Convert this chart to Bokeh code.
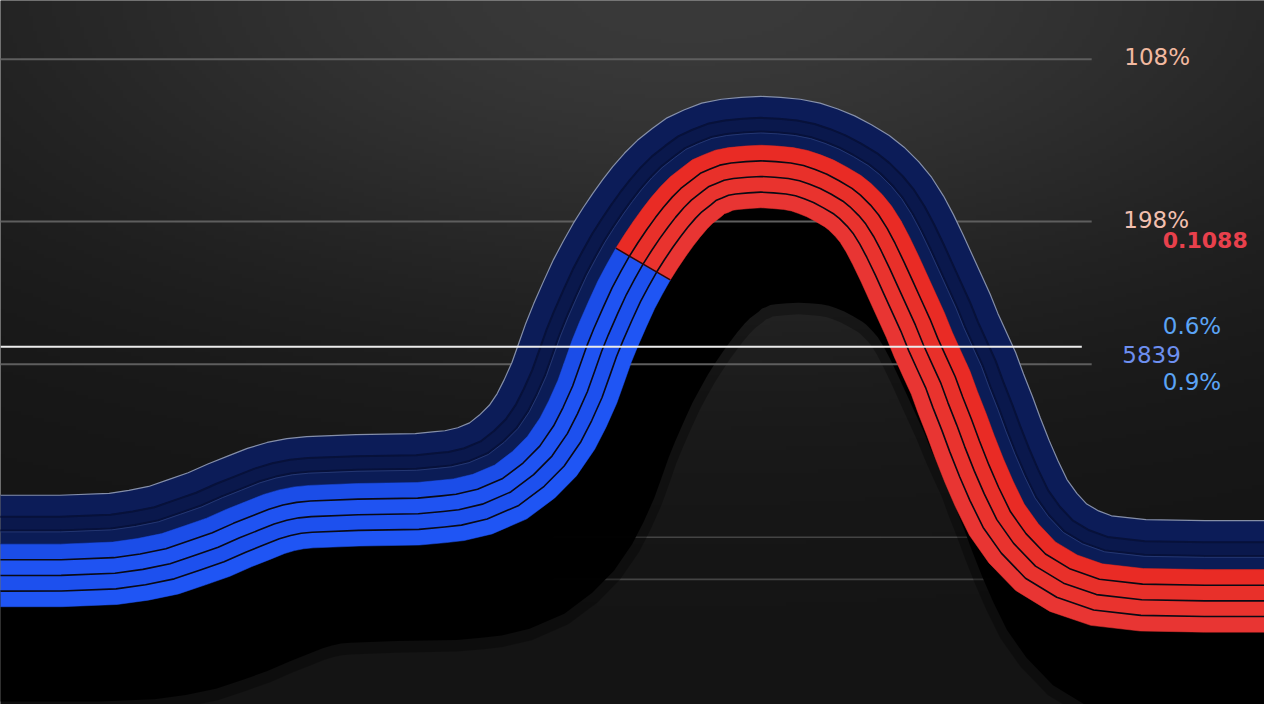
import numpy as np
from bokeh.plotting import figure
from bokeh.models import Range1d
from bokeh.core.properties import value
from bokeh.embed import file_html
from bokeh.resources import INLINE

# ---------------- data (pixel coords, y downward) ----------------
# outer (upper) edge of the ribbon
edge_x = [0, 60, 110, 130, 150, 170, 190, 210, 230, 250, 270, 290, 310, 360, 420, 440,
          450, 463, 475, 485, 495, 503, 510, 518, 525, 532, 540, 550, 560, 570, 580, 590,
          600, 610, 620, 632, 645, 660, 675, 692, 710, 730, 750, 770, 790, 810, 830, 848,
          865, 882, 900, 915, 930, 943, 955, 965, 975, 984, 993, 1002, 1010, 1019, 1028,
          1036, 1045, 1053, 1062, 1071, 1080, 1090, 1100, 1112, 1125, 1160, 1220, 1280]
edge_y = [506, 506, 504, 501, 497, 490, 483, 474, 466, 458, 452, 448, 446, 444, 443, 441,
          440, 437, 432, 424, 414, 402, 388, 370, 350, 330, 310, 287, 265, 246, 228, 212,
          197, 183, 170, 156, 143, 131, 120, 112, 105, 101, 99, 98, 99, 101, 105, 111,
          118, 127, 138, 150, 165, 181, 200, 219, 240, 260, 280, 300, 320, 340, 360,
          382, 405, 427, 450, 471, 490, 504, 515, 522, 527, 531, 532, 532]
split_x = 580            # where the inner stripes change from blue to red

# horizontal reference lines
grid_y = [60, 226, 372]
grid_x0 = [0, 0, 0]
grid_x1 = [1105, 1105, 1105]
low_grid_y = [549, 592]
low_grid_x0 = [560, 560]
low_grid_x1 = [1100, 1100]
mark_y = [354]
mark_x0 = [0]
mark_x1 = [1095]

# labels on the right
label_text = ["108%", "198%", "0.1088", "0.6%", "5839", "0.9%"]
label_x = [1138, 1137, 1177, 1177, 1136, 1177]
label_y = [58, 224, 245, 333, 362, 390]
label_color = ["#f2b9a0", "#f2bfae", "#e8404c", "#5ba4f5", "#6d8ff0", "#5ba4f5"]
label_style = ["normal", "normal", "bold", "normal", "normal", "normal"]
label_size = ["23px", "23px", "22px", "23px", "23px", "23px"]

# ---------------- geometry helpers ----------------
PW, PH = 1280, 720


def Y(y):
    return PH - np.asarray(y, dtype=float)


pts = np.column_stack([np.asarray(edge_x, float), np.asarray(edge_y, float)])
# extend the ribbon flat beyond both frame edges
pts = np.vstack([[pts[0, 0] - 200, pts[0, 1]], pts, [pts[-1, 0] + 200, pts[-1, 1]]])
n = len(pts)
tang = np.zeros_like(pts)
tang[1:-1] = pts[2:] - pts[:-2]
tang[0] = pts[1] - pts[0]
tang[-1] = pts[-1] - pts[-2]
tang /= np.linalg.norm(tang, axis=1)[:, None]
normal = np.column_stack([-tang[:, 1], tang[:, 0]])  # points to the inner (lower) side


def off(d, dx=0.0, dy=0.0):
    q = pts + d * normal
    return q[:, 0] + dx, q[:, 1] + dy


def band(d1, d2, a=0, b=None, dx=0.0, dy=0.0):
    if b is None:
        b = n - 1
    x1, y1 = off(d1, dx, dy)
    x2, y2 = off(d2, dx, dy)
    xs = np.concatenate([x1[a:b + 1], x2[a:b + 1][::-1]])
    ys = np.concatenate([y1[a:b + 1], y2[a:b + 1][::-1]])
    return xs, Y(ys)


k = edge_x.index(split_x) + 1   # +1 for the padding point

# ---------------- figure ----------------
p = figure(width=1264, height=704, output_backend="svg", toolbar_location=None,
           x_range=Range1d(0, PW), y_range=Range1d(0, PH),
           x_axis_location=None, y_axis_location=None, min_border=0)
p.grid.visible = False
p.outline_line_color = None
p.background_fill_color = "#1a1a1a"
p.border_fill_color = "#1a1a1a"

# background glow
Hi, Wi = 180, 320
ys_img = PH - (np.arange(Hi) + 0.5) * PH / Hi      # row 0 at the bottom
xs_img = (np.arange(Wi) + 0.5) * PW / Wi
GX, GY = np.meshgrid(xs_img, ys_img)
g = (20 + 38 * np.exp(-((GX - 700) / 750) ** 2 - ((GY + 10) / 330) ** 2)).astype(np.uint8)
img = np.empty((Hi, Wi), dtype=np.uint32)
view = img.view(dtype=np.uint8).reshape((Hi, Wi, 4))
view[..., 0] = g
view[..., 1] = g
view[..., 2] = g
view[..., 3] = 255
p.image_rgba(image=[img], x=0, y=0, dw=PW, dh=PH)

# low grid lines (under the shadow)
p.segment(x0=low_grid_x0, x1=low_grid_x1, y0=Y(low_grid_y), y1=Y(low_grid_y),
          line_color="#444444", line_width=1.6)

# shadow
sx, sy = band(0, 122, dx=38, dy=101)
p.patch(sx, sy, fill_color="black", fill_alpha=0.3, line_color=None)
sx, sy = band(0, 114, dx=38, dy=97)
p.patch(sx, sy, fill_color="black", fill_alpha=0.97, line_color=None)

# upper grid lines
p.segment(x0=grid_x0, x1=grid_x1, y0=Y(grid_y), y1=Y(grid_y),
          line_color="#5e5e5e", line_width=2)

# navy outer part of the ribbon
navy = [(0, 22, "#0c1c58"), (22, 36, "#0a184c"), (36, 50, "#0b1c56")]
for d1, d2, c in navy:
    bx, by = band(d1, d2)
    p.patch(bx, by, fill_color=c, line_color=c, line_width=0.5)
for d, c, w in [(22, "#07113a", 2.0), (36, "#07113a", 2.0), (37.5, "#2b3d78", 0.8)]:
    lx, ly = off(d)
    p.line(lx, Y(ly), line_color=c, line_width=w, line_join="round")

# coloured inner stripes
stripes = [(50, 66), (66, 82), (82, 98), (98, 114)]
blue_cols = ["#1b4de8", "#1f53f2", "#1d50ee", "#1f55f4"]
red_cols = ["#e92b25", "#e8302a", "#e9332e", "#e83533"]
for (d1, d2), cb, cr in zip(stripes, blue_cols, red_cols):
    bx, by = band(d1, d2, 0, k)
    p.patch(bx, by, fill_color=cb, line_color=cb, line_width=0.5)
    rx, ry = band(d1, d2, k, n - 1)
    p.patch(rx, ry, fill_color=cr, line_color=cr, line_width=0.5)
for d in [66, 82, 98]:
    lx, ly = off(d)
    p.line(lx, Y(ly), line_color="#0a0a14", line_width=1.6, line_join="round")

# junction between blue and red
jx0, jy0 = off(50)
jx1, jy1 = off(114)
p.segment(x0=[jx0[k]], y0=Y([jy0[k]]), x1=[jx1[k]], y1=Y([jy1[k]]),
          line_color="#300808", line_width=1.5)

# outline of the ribbon's outer edge
ox, oy = off(0)
p.line(ox, Y(oy), line_color="#9aa3b8", line_width=1.2, line_alpha=0.85, line_join="round")

# bright marker line on top
p.segment(x0=mark_x0, x1=mark_x1, y0=Y(mark_y), y1=Y(mark_y),
          line_color="#ececec", line_width=2)

# labels
p.text(x=label_x, y=Y(label_y), text=label_text, text_color=label_color,
       text_font=value("DejaVu Sans"), text_font_size=label_size,
       text_font_style=label_style, text_align="left", text_baseline="middle")

html = file_html(p, INLINE)
html = html.replace("<body>", '<body style="margin:8px;background:#1a1a1a;">', 1)
open("out.html", "w").write(html)
